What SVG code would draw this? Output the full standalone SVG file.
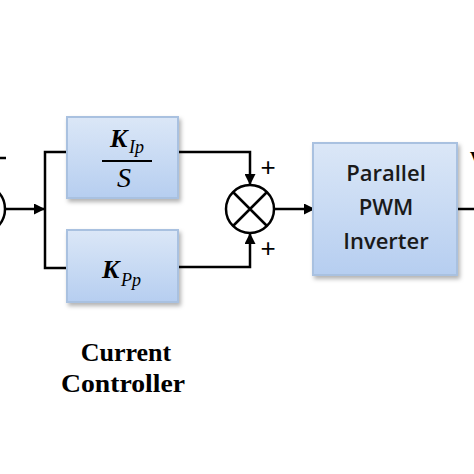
<svg xmlns="http://www.w3.org/2000/svg" width="474" height="474" viewBox="0 0 474 474">
<style>
.ln{fill:none;stroke:#000;stroke-width:2.5}
.box{fill:url(#g);stroke:#a9c1e0;stroke-width:2}
.mt{font-family:"Liberation Serif",serif;font-style:italic;fill:#000}
.sans{font-family:"Open Sans","Liberation Sans",sans-serif;font-size:22px;font-weight:600;fill:#1a1a1a;text-anchor:middle}
.lab{font-family:"Liberation Serif",serif;font-weight:bold;font-size:26px;fill:#000;text-anchor:middle}
.pl{font-family:"Liberation Sans",sans-serif;font-size:26px;text-anchor:middle;fill:#000}
</style>
<defs>
<linearGradient id="g" x1="0" y1="0" x2="0" y2="1">
<stop offset="0" stop-color="#dbe7f7"/>
<stop offset="1" stop-color="#b6cef0"/>
</linearGradient>
<filter id="sh" x="-10%" y="-10%" width="130%" height="130%">
<feDropShadow dx="2" dy="3" stdDeviation="2" flood-color="#000" flood-opacity="0.3"/>
</filter>
<marker id="ar" markerWidth="11" markerHeight="11" refX="10" refY="5.5" orient="auto" markerUnits="userSpaceOnUse">
<path d="M0,0 L11,5.5 L0,11 Z" fill="#000"/>
</marker>
</defs>
<g id="connectors">
<path class="ln" d="M0,158 H6"/>
<path class="ln" d="M5,209 H44" marker-end="url(#ar)"/>
<path class="ln" d="M66,152 H45 V268 H66"/>
<path class="ln" d="M178,152 H250 V184" marker-end="url(#ar)"/>
<path class="ln" d="M178,267 H250 V234" marker-end="url(#ar)"/>
<path class="ln" d="M275,209 H314" marker-end="url(#ar)"/>
<path class="ln" d="M457,209 H474"/>
</g>
<g id="input-sum">
<circle cx="-20" cy="209" r="25" class="ln"/>
</g>
<g id="ki-box">
<rect x="67" y="117" width="111" height="81" class="box" filter="url(#sh)"/>
<text x="110" y="147" class="mt" font-size="26" font-weight="bold">K</text>
<text x="129" y="153" class="mt" font-size="18">Ip</text>
<path d="M102,161 H152" stroke="#000" stroke-width="2.2"/>
<text x="124" y="187" class="mt" font-size="28" text-anchor="middle">S</text>
</g>
<g id="kp-box">
<rect x="67" y="230" width="111" height="72" class="box" filter="url(#sh)"/>
<text x="102" y="278" class="mt" font-size="26" font-weight="bold">K</text>
<text x="121" y="286" class="mt" font-size="18">Pp</text>
</g>
<g id="sum">
<circle cx="250" cy="209" r="24" fill="#fff" class="ln"/>
<path class="ln" d="M233,192 L267,226 M267,192 L233,226"/>
<text x="268" y="176" class="pl">+</text>
<text x="268" y="257" class="pl">+</text>
</g>
<g id="inverter">
<rect x="313" y="143" width="144" height="132" class="box" filter="url(#sh)"/>
<text x="386" y="181" class="sans">Parallel</text>
<text x="386" y="215" class="sans">PWM</text>
<text x="386" y="249" class="sans">Inverter</text>
</g>
<text x="470" y="165" font-family="Liberation Serif,serif" font-weight="bold" font-size="18">V</text>
<g id="label">
<text x="126" y="361" class="lab">Current</text>
<text x="123" y="392" class="lab" textLength="124" lengthAdjust="spacingAndGlyphs">Controller</text>
</g>
</svg>
